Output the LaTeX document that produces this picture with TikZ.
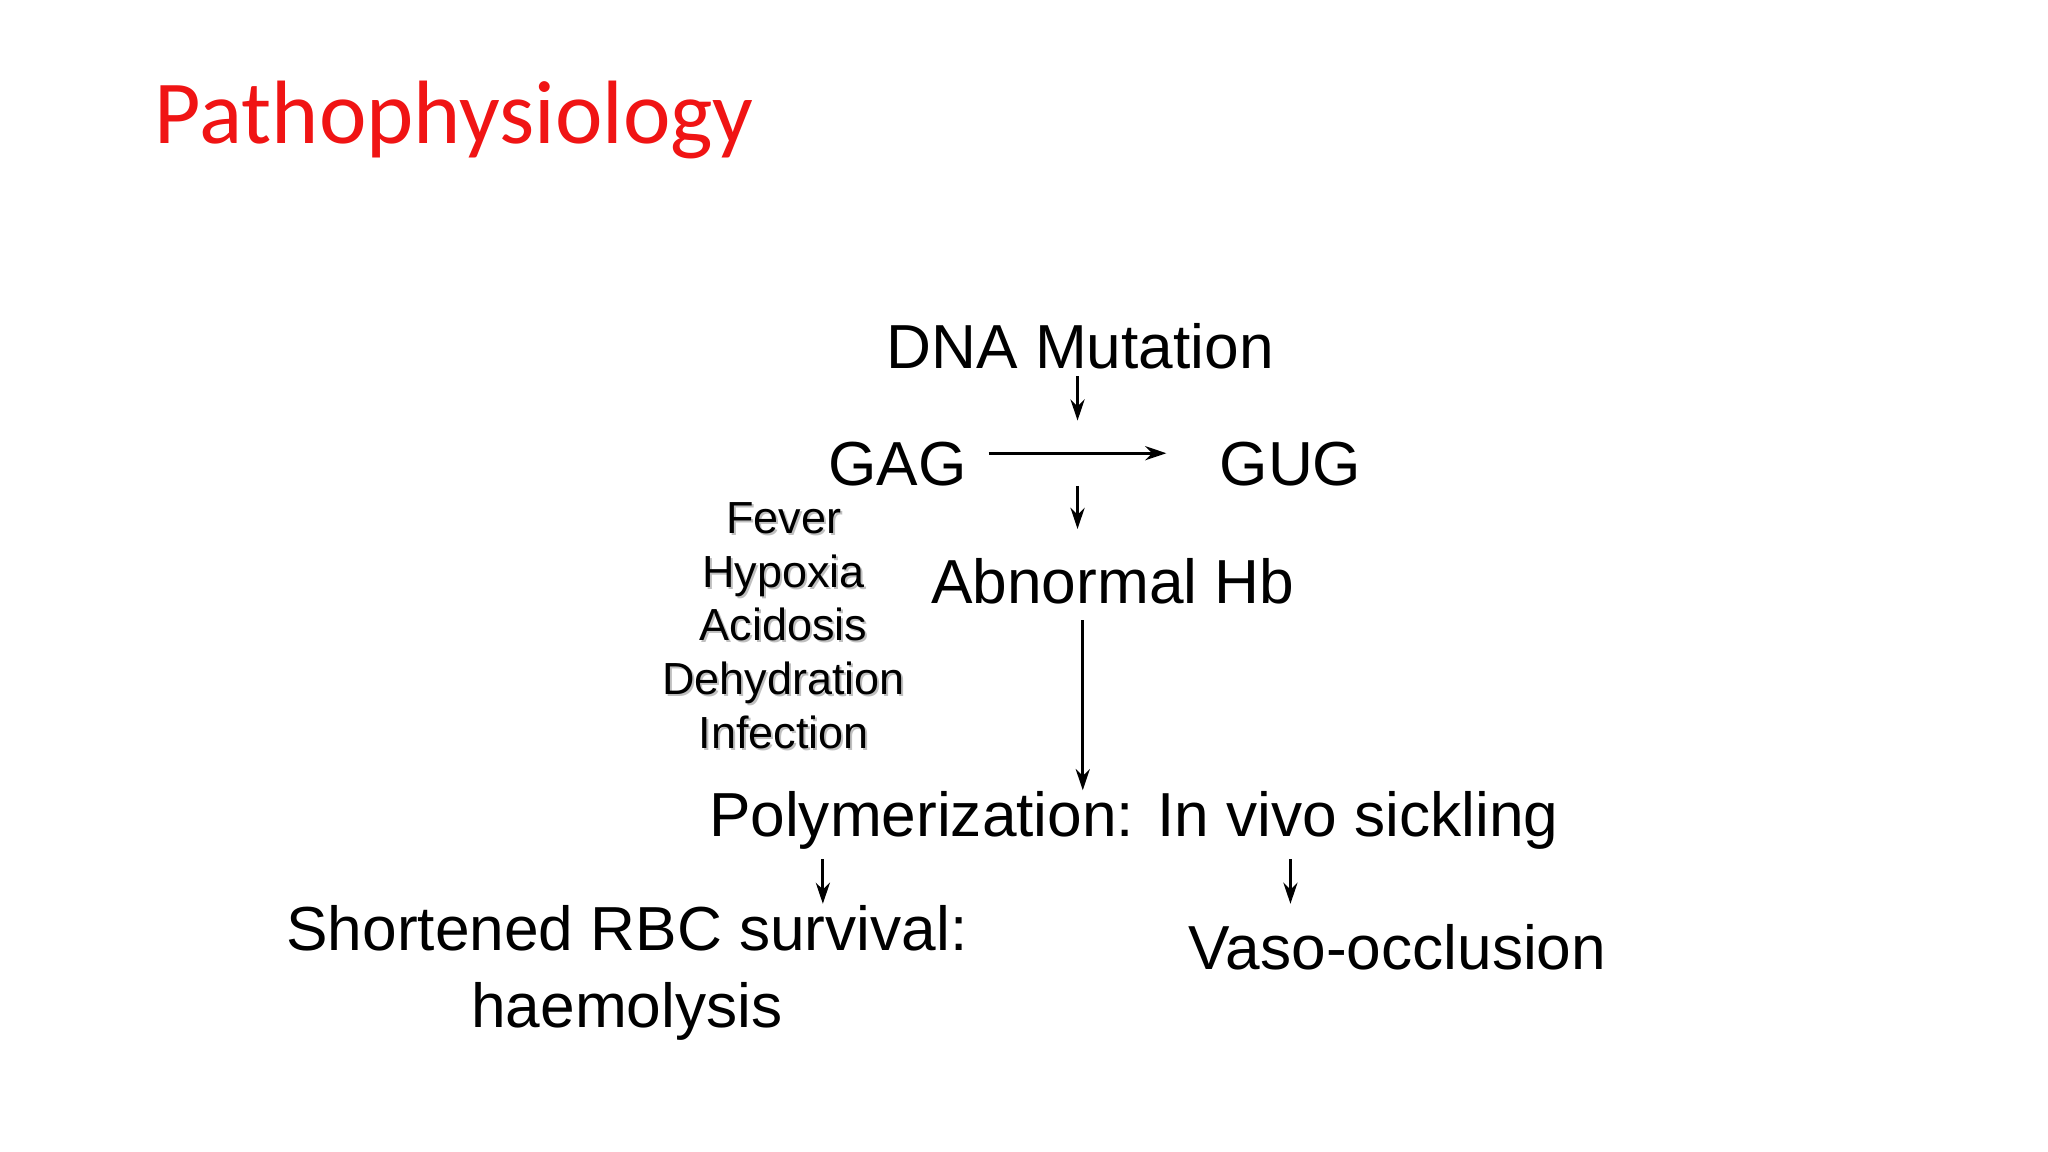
\documentclass[tikz,border=0pt]{standalone}
\usepackage{fontspec}
\setmainfont{Liberation Sans}
\newfontfamily\titlefont{Carlito}
\usetikzlibrary{arrows.meta}
\definecolor{titlered}{RGB}{240,20,20}
\tikzset{
  big/.style={font=\fontsize{17.7pt}{21pt}\selectfont, inner sep=0pt},
  small/.style={font=\fontsize{12.8pt}{15.3pt}\selectfont, inner sep=0pt, align=center},
  arr/.style={-{Stealth[length=6pt,width=4pt]}, line width=0.9pt}
}
\begin{document}
\begin{tikzpicture}[x=0.013061cm,y=-0.013061cm]
\useasboundingbox[fill=white] (0,0) rectangle (1568,882);
\node[anchor=base west, inner sep=0pt, text=titlered, font=\titlefont\fontsize{25.6pt}{30pt}\selectfont] (title) at (118,110) {Pathophysiology};
\node[big] (dna) at (827,265) {DNA Mutation};
\node[big] (gag) at (687,355) {GAG};
\node[big] (gug) at (988,355) {GUG};
\node[big] (hb) at (852,445) {Abnormal Hb};
\node[big] (poly) at (868,628) {Polymerization: In vivo sickling};
\node[big, align=center, font=\fontsize{17.7pt}{21.9pt}\selectfont] (short) at (480,745) {Shortened RBC survival:\\haemolysis};
\node[big] (vaso) at (1070,725) {Vaso-occlusion};
\node[small, text=black!25] at (601.5,480.5) {Fever\\Hypoxia\\Acidosis\\Dehydration\\Infection};
\node[small] (factors) at (600,479) {Fever\\Hypoxia\\Acidosis\\Dehydration\\Infection};
\coordinate (a1) at (825,288); \coordinate (a2) at (825,322);
\coordinate (b1) at (757,347); \coordinate (b2) at (893,347);
\coordinate (c1) at (825,372); \coordinate (c2) at (825,405);
\coordinate (d1) at (829,475); \coordinate (d2) at (829,605);
\coordinate (e1) at (630,658); \coordinate (e2) at (630,692);
\coordinate (f1) at (988,658); \coordinate (f2) at (988,692);
\draw[arr] (a1) -- (a2);
\draw[arr] (b1) -- (b2);
\draw[arr] (c1) -- (c2);
\draw[arr] (d1) -- (d2);
\draw[arr] (e1) -- (e2);
\draw[arr] (f1) -- (f2);
\end{tikzpicture}
\end{document}
